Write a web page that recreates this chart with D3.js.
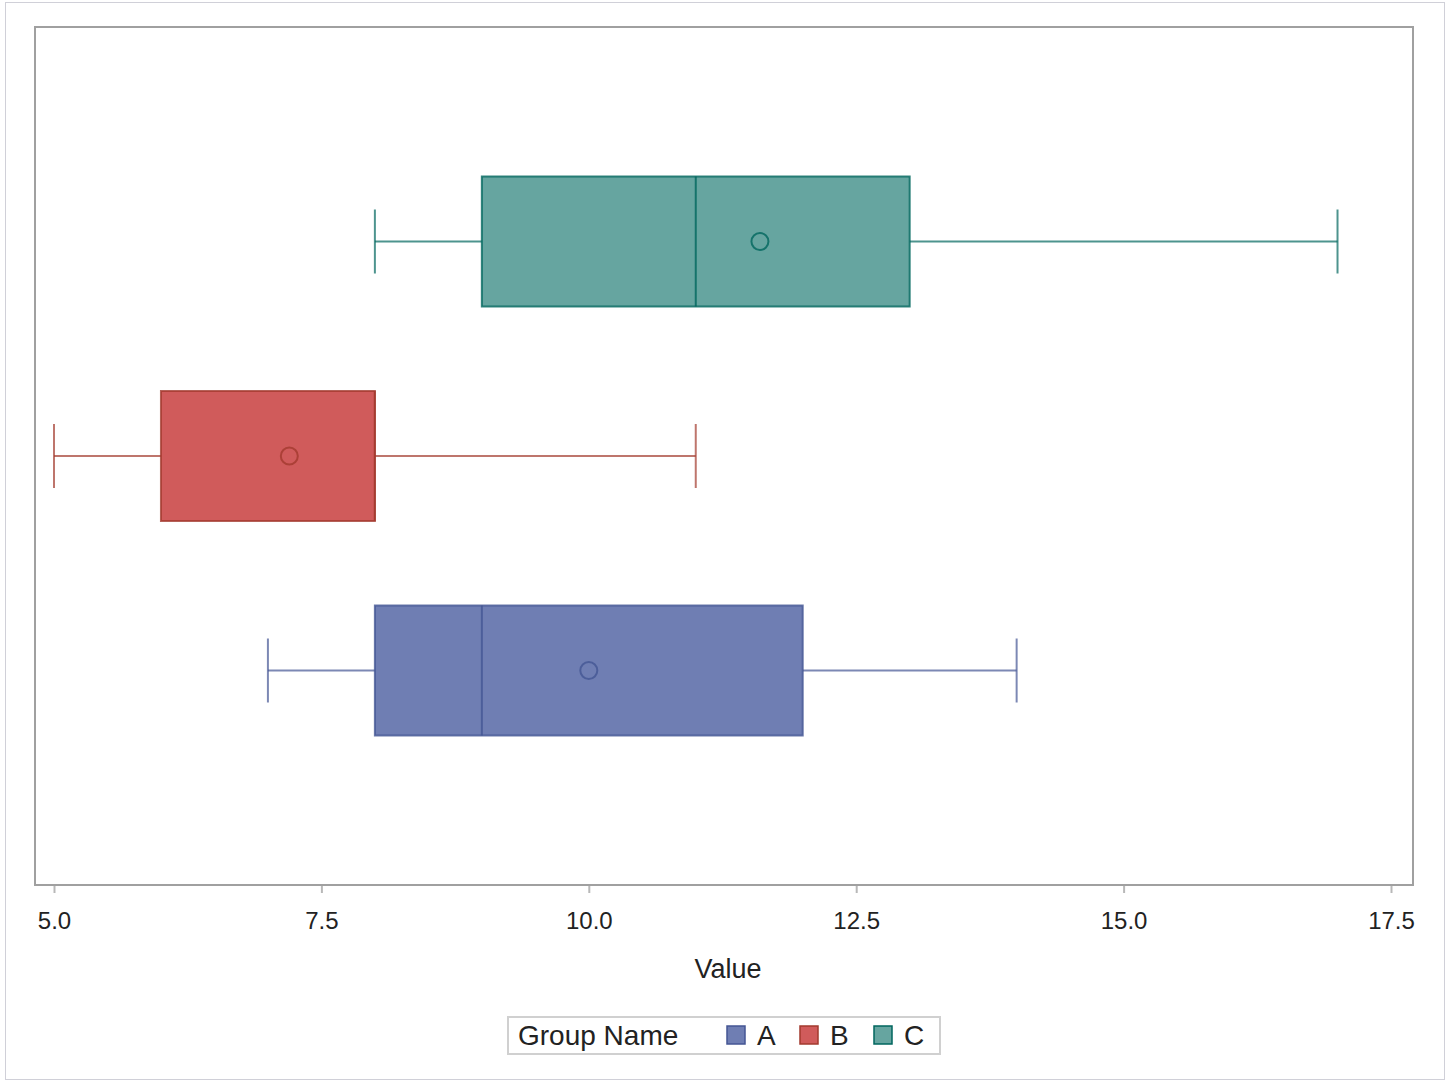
<!DOCTYPE html>
<html>
<head>
<meta charset="utf-8">
<script src="https://cdn.jsdelivr.net/npm/d3@7"></script>
<style>
  body { margin: 0; background: #fff; }
  text { font-family: "Liberation Sans", Arial, sans-serif; fill: #222; }
</style>
</head>
<body>
<script>
// box plot summaries
var groups = ["A", "B", "C"];
var whiskerLow = [7, 5, 8];
var q1 = [8, 6, 9];
var median = [9, 8, 11];
var q3 = [12, 8, 13];
var whiskerHigh = [14, 11, 17];
var means = [10, 7.2, 11.6];
var xTicks = [5.0, 7.5, 10.0, 12.5, 15.0, 17.5];

var fills = ["#6f7eb3", "#d05b5b", "#66a5a0"];
var strokes = ["#445694", "#a23a2e", "#01665e"];

var w = 1455, h = 1088;
var plotLeft = 35, plotRight = 1413, plotTop = 27, plotBottom = 885;

var svg = d3.select("body").append("svg")
    .attr("width", w)
    .attr("height", h);

// outer border
svg.append("rect")
   .attr("x", 5.5).attr("y", 2.5)
   .attr("width", 1439).attr("height", 1077)
   .attr("fill", "none")
   .attr("stroke", "#d0d0d8");

var xScale = d3.scaleLinear()
    .domain([5, 17.5])
    .range([54, 1391]);

var yScale = d3.scalePoint()
    .domain(["C", "B", "A"])
    .range([plotTop, plotBottom])
    .padding(1);

var boxH = 130, capH = 64;

// x axis
var xAxis = d3.axisBottom(xScale)
    .tickValues(xTicks)
    .tickFormat(d3.format(".1f"))
    .tickSize(8)
    .tickPadding(19);

var ax = svg.append("g")
    .attr("transform", "translate(0," + plotBottom + ")")
    .call(xAxis);
ax.select(".domain").remove();
ax.selectAll(".tick line").attr("stroke", "#b8b8b8").attr("stroke-width", 2);
ax.selectAll(".tick text").attr("font-size", 24).attr("fill", "#222");

svg.append("text")
   .attr("x", (plotLeft + plotRight) / 2 + 4)
   .attr("y", 978)
   .attr("text-anchor", "middle")
   .attr("font-size", 27)
   .text("Value");

// boxes
groups.forEach(function(g, i) {
    var cy = yScale(g);
    var gEl = svg.append("g");

    // whiskers
    gEl.append("line")
       .attr("x1", xScale(whiskerLow[i])).attr("x2", xScale(q1[i]))
       .attr("y1", cy).attr("y2", cy)
       .attr("stroke", strokes[i]).attr("stroke-opacity", 0.7).attr("stroke-width", 2);
    gEl.append("line")
       .attr("x1", xScale(q3[i])).attr("x2", xScale(whiskerHigh[i]))
       .attr("y1", cy).attr("y2", cy)
       .attr("stroke", strokes[i]).attr("stroke-opacity", 0.7).attr("stroke-width", 2);
    [whiskerLow[i], whiskerHigh[i]].forEach(function(v) {
        gEl.append("line")
           .attr("x1", xScale(v)).attr("x2", xScale(v))
           .attr("y1", cy - capH / 2).attr("y2", cy + capH / 2)
           .attr("stroke", strokes[i]).attr("stroke-opacity", 0.7).attr("stroke-width", 2);
    });

    // box
    gEl.append("rect")
       .attr("x", xScale(q1[i]))
       .attr("y", cy - boxH / 2)
       .attr("width", xScale(q3[i]) - xScale(q1[i]))
       .attr("height", boxH)
       .attr("fill", fills[i])
       .attr("stroke", strokes[i])
       .attr("stroke-opacity", 0.8)
       .attr("stroke-width", 2);

    // median
    gEl.append("line")
       .attr("x1", xScale(median[i])).attr("x2", xScale(median[i]))
       .attr("y1", cy - boxH / 2).attr("y2", cy + boxH / 2)
       .attr("stroke", strokes[i]).attr("stroke-opacity", 0.8).attr("stroke-width", 2);

    // mean
    gEl.append("circle")
       .attr("cx", xScale(means[i]))
       .attr("cy", cy)
       .attr("r", 8.5)
       .attr("fill", "none")
       .attr("stroke", strokes[i])
       .attr("stroke-opacity", 0.8)
       .attr("stroke-width", 2);
});

// plot frame
svg.append("rect")
   .attr("x", plotLeft).attr("y", plotTop)
   .attr("width", plotRight - plotLeft).attr("height", plotBottom - plotTop)
   .attr("fill", "none")
   .attr("stroke", "#a0a0a0")
   .attr("stroke-width", 2);

// legend
var legend = svg.append("g");
legend.append("rect")
      .attr("x", 508).attr("y", 1017)
      .attr("width", 432).attr("height", 37)
      .attr("fill", "#fff")
      .attr("stroke", "#d0d0d0")
      .attr("stroke-width", 2);
legend.append("text")
      .attr("x", 518).attr("y", 1045)
      .attr("font-size", 28)
      .text("Group Name");

var legendX = [727, 800, 874];
groups.forEach(function(g, i) {
    legend.append("rect")
          .attr("x", legendX[i]).attr("y", 1026)
          .attr("width", 18).attr("height", 18)
          .attr("fill", fills[i])
          .attr("stroke", strokes[i])
          .attr("stroke-width", 1.5);
    legend.append("text")
          .attr("x", legendX[i] + 30).attr("y", 1045)
          .attr("font-size", 28)
          .text(g);
});
</script>
</body>
</html>
